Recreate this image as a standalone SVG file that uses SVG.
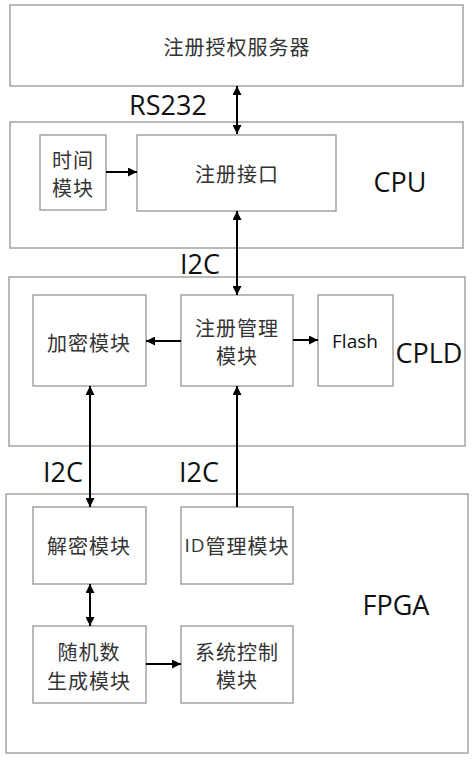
<svg xmlns="http://www.w3.org/2000/svg" width="474" height="760" viewBox="0 0 474 760">
<style>
rect{fill:#fff;stroke:#a3a3a3;stroke-width:1.5}
.cn{font-family:"Noto Sans CJK SC","Noto Sans",sans-serif;font-size:20px;fill:#333;text-anchor:middle;dominant-baseline:central;letter-spacing:1px}
.en{font-family:"Open Sans","Liberation Sans",sans-serif;fill:#111;text-anchor:middle;dominant-baseline:central}
.big{font-size:27px}
.ln{stroke:#000;stroke-width:2;fill:none}
</style>
<defs>
<marker id="ah" viewBox="0 0 10 10" refX="10" refY="5" markerWidth="9" markerHeight="9" markerUnits="userSpaceOnUse" orient="auto-start-reverse">
<path d="M0,0 L10,5 L0,10 z" fill="#000"/>
</marker>
</defs>
<rect x="0" y="0" width="474" height="760" style="fill:#fff;stroke:none"/>
<g id="server"><rect x="10" y="5" width="453" height="81"/><text class="cn" x="237" y="46">注册授权服务器</text></g>
<g id="cpu"><rect x="10" y="122" width="453" height="126"/><text class="en big" x="400" y="181">CPU</text></g>
<g id="time"><rect x="40" y="135" width="66" height="75"/><text class="cn" x="73" y="159">时间</text><text class="cn" x="73" y="187">模块</text></g>
<g id="regif"><rect x="137" y="135" width="199" height="76"/><text class="cn" x="237" y="173">注册接口</text></g>
<g id="cpld"><rect x="9" y="277" width="456" height="169"/><text class="en big" x="429" y="352">CPLD</text></g>
<g id="enc"><rect x="33" y="295" width="113" height="91"/><text class="cn" x="89" y="342">加密模块</text></g>
<g id="regmgr"><rect x="181" y="295" width="112" height="91"/><text class="cn" x="237" y="327">注册管理</text><text class="cn" x="237" y="355">模块</text></g>
<g id="flash"><rect x="318" y="295" width="75" height="91"/><text class="en" x="355" y="341" style="font-size:19px">Flash</text></g>
<g id="fpga"><rect x="6" y="494" width="462" height="259"/><text class="en big" x="396" y="604">FPGA</text></g>
<g id="dec"><rect x="33" y="507" width="113" height="77"/><text class="cn" x="89" y="545">解密模块</text></g>
<g id="idmgr"><rect x="181" y="507" width="112" height="77"/><text class="cn" x="237" y="545"><tspan class="en" style="font-size:19px;fill:#333">ID</tspan>管理模块</text></g>
<g id="rand"><rect x="33" y="626" width="113" height="77"/><text class="cn" x="89" y="651">随机数</text><text class="cn" x="89" y="680">生成模块</text></g>
<g id="sysctl"><rect x="181" y="626" width="112" height="77"/><text class="cn" x="237" y="651">系统控制</text><text class="cn" x="237" y="679">模块</text></g>
<g id="labels">
<text class="en big" x="168" y="104">RS232</text>
<text class="en big" x="200" y="263">I2C</text>
<text class="en big" x="63" y="471">I2C</text>
<text class="en big" x="199" y="471">I2C</text>
</g>
<g id="connectors">
<line class="ln" x1="237" y1="86" x2="237" y2="134" marker-start="url(#ah)" marker-end="url(#ah)"/>
<line class="ln" x1="106" y1="172" x2="137" y2="172" marker-end="url(#ah)"/>
<line class="ln" x1="237" y1="211" x2="237" y2="295" marker-start="url(#ah)" marker-end="url(#ah)"/>
<line class="ln" x1="181" y1="341" x2="146" y2="341" marker-end="url(#ah)"/>
<line class="ln" x1="293" y1="340" x2="318" y2="340" marker-end="url(#ah)"/>
<line class="ln" x1="90" y1="386" x2="90" y2="507" marker-start="url(#ah)" marker-end="url(#ah)"/>
<line class="ln" x1="237" y1="507" x2="237" y2="386" marker-end="url(#ah)"/>
<line class="ln" x1="90" y1="584" x2="90" y2="626" marker-start="url(#ah)" marker-end="url(#ah)"/>
<line class="ln" x1="146" y1="664" x2="181" y2="664" marker-end="url(#ah)"/>
</g>
</svg>
